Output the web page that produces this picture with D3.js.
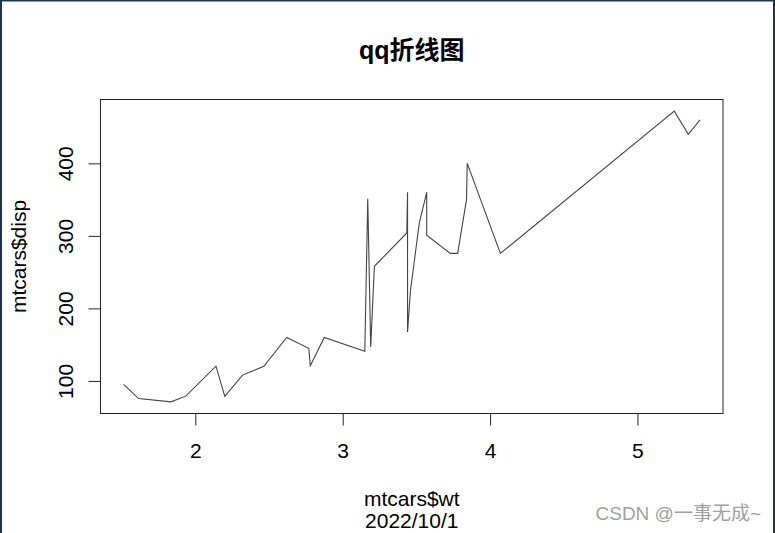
<!DOCTYPE html>
<html>
<head>
<meta charset="utf-8">
<script src="https://cdn.jsdelivr.net/npm/d3@7"></script>
<style>
  html, body { margin: 0; padding: 0; background: #fff; }
  svg { display: block; }
  text { font-family: "Liberation Sans", Arial, "Noto Sans CJK SC", sans-serif; fill: #000; }
</style>
</head>
<body>
<div id="chart"></div>
<script>
// mtcars, ordered by wt
const wt = [1.513, 1.615, 1.835, 1.935, 2.140, 2.200, 2.320, 2.465, 2.620, 2.770, 2.780,
  2.875, 3.150, 3.170, 3.190, 3.215, 3.435, 3.440, 3.440, 3.440, 3.460, 3.520, 3.570,
  3.570, 3.730, 3.780, 3.840, 3.845, 4.070, 5.250, 5.345, 5.424];
const disp = [95.1, 75.7, 71.1, 79.0, 120.3, 78.7, 108.0, 120.1, 160.0, 145.0, 121.0,
  160.0, 140.8, 351.0, 146.7, 258.0, 304.0, 360.0, 167.6, 167.6, 225.0, 318.0, 360.0,
  301.0, 275.8, 275.8, 350.0, 400.0, 275.8, 472.0, 440.0, 460.0];
const xTicks = [2, 3, 4, 5];
const yTicks = [100, 200, 300, 400];
const title = "qq折线图";
const xLabel = "mtcars$wt";
const subLabel = "2022/10/1";
const yLabel = "mtcars$disp";
const watermark = "CSDN @一事无成~";

const W = 775, H = 533;
const box = { left: 100.5, right: 723, top: 99.5, bottom: 413.5 };

// R style 4% padding
const pad = ([a, b]) => [a - (b - a) * 0.04, b + (b - a) * 0.04];

const x = d3.scaleLinear().domain(pad(d3.extent(wt))).range([box.left, box.right]);
const y = d3.scaleLinear().domain(pad(d3.extent(disp))).range([box.bottom, box.top]);

const svg = d3.select("#chart").append("svg")
  .attr("width", W).attr("height", H);

svg.append("rect").attr("width", W).attr("height", H).attr("fill", "#fff");

// Line
const pts = wt.map((w, i) => [w, disp[i]]);
svg.append("path")
  .datum(pts)
  .attr("fill", "none")
  .attr("stroke", "#444")
  .attr("stroke-width", 1.1)
  .attr("d", d3.line().x(d => x(d[0])).y(d => y(d[1])));

// Box
svg.append("rect")
  .attr("x", box.left).attr("y", box.top)
  .attr("width", box.right - box.left).attr("height", box.bottom - box.top)
  .attr("fill", "none").attr("stroke", "#222").attr("stroke-width", 1);

// Axes
const xAxis = svg.append("g")
  .attr("transform", `translate(0,${box.bottom})`)
  .call(d3.axisBottom(x).tickValues(xTicks).tickFormat(d3.format("d"))
    .tickSize(12).tickSizeOuter(0).tickPadding(18));
xAxis.select(".domain").remove();
xAxis.selectAll("line").attr("stroke", "#222");
xAxis.selectAll("text").attr("font-size", 21).attr("font-family", null).attr("dy", "0.71em");

const yAxis = svg.append("g")
  .attr("transform", `translate(${box.left},0)`)
  .call(d3.axisLeft(y).tickValues(yTicks).tickFormat(d3.format("d"))
    .tickSize(12).tickSizeOuter(0));
yAxis.select(".domain").remove();
yAxis.selectAll("line").attr("stroke", "#222");
yAxis.selectAll("text")
  .attr("font-size", 21).attr("font-family", null)
  .attr("text-anchor", "middle")
  .attr("x", null).attr("dy", null)
  .attr("transform", "translate(-28,0) rotate(-90)");

// Title and labels
svg.append("text")
  .attr("x", (box.left + box.right) / 2).attr("y", 59)
  .attr("text-anchor", "middle")
  .attr("font-size", 25).attr("font-weight", "bold")
  .text(title);

svg.append("text")
  .attr("x", (box.left + box.right) / 2).attr("y", 506)
  .attr("text-anchor", "middle").attr("font-size", 21)
  .text(xLabel);

svg.append("text")
  .attr("x", (box.left + box.right) / 2).attr("y", 528)
  .attr("text-anchor", "middle").attr("font-size", 21)
  .text(subLabel);

svg.append("text")
  .attr("transform", `translate(26,${(box.top + box.bottom) / 2}) rotate(-90)`)
  .attr("text-anchor", "middle").attr("font-size", 21)
  .text(yLabel);

// Watermark
svg.append("text")
  .attr("x", 761).attr("y", 520)
  .attr("text-anchor", "end").attr("font-size", 19)
  .style("fill", "#a0a0a0")
  .text(watermark);

// Frame edges
svg.append("rect").attr("x", 0).attr("y", 0).attr("width", 2).attr("height", H).attr("fill", "#1f3349");
svg.append("rect").attr("x", 0).attr("y", 0).attr("width", W).attr("height", 1.5).attr("fill", "#1f3349");
svg.append("rect").attr("x", W - 2).attr("y", 0).attr("width", 2).attr("height", H).attr("fill", "#1f3349");
</script>
</body>
</html>
